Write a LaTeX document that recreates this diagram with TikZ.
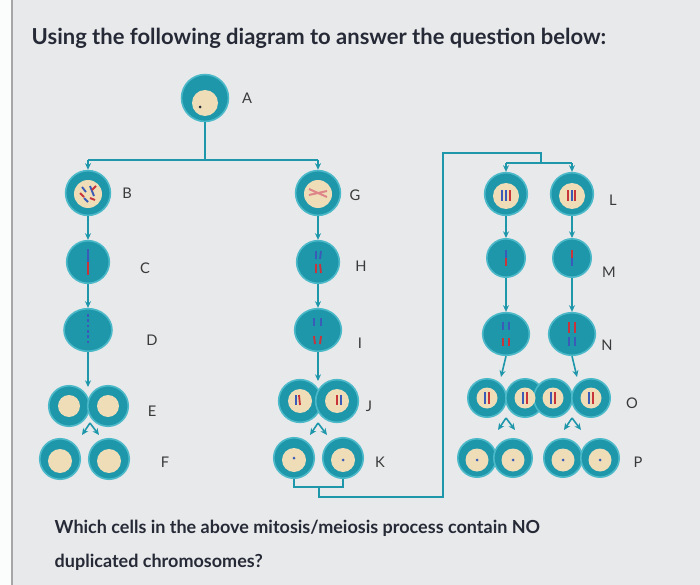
\documentclass[tikz,border=0pt]{standalone}
\usepackage{fontspec}
\setmainfont{Lato}
\usetikzlibrary{arrows.meta,shapes.geometric}
\definecolor{bg}{HTML}{E8E9EB}
\definecolor{teal}{HTML}{1E97AB}
\definecolor{tealL}{HTML}{4CB9C9}
\definecolor{nuc}{HTML}{EFDDB8}
\definecolor{ink}{HTML}{262A36}
\definecolor{lab}{HTML}{3A3A3A}
\definecolor{chr}{HTML}{C8343A}
\definecolor{chb}{HTML}{3B5BB8}
\begin{document}
\begin{tikzpicture}[x=0.75pt,y=-0.75pt,
  cell/.style={circle,fill=teal,draw=tealL,line width=1.2pt,minimum size=#1*0.8pt,inner sep=0pt},
  ocell/.style={ellipse,fill=teal,draw=tealL,line width=1.2pt,inner sep=0pt},
  nucl/.style={circle,fill=nuc,minimum size=#1*0.75pt,inner sep=0pt},
  lbl/.style={font=\fontsize{11}{13}\selectfont,text=lab},
  con/.style={draw=teal,line width=1.2pt},
  arr/.style={con,-{Stealth[length=5pt,width=4.5pt]}},
  chrr/.style={draw=chr,line width=1.4pt},
  chrb/.style={draw=chb,line width=1.4pt}]
\useasboundingbox (0,0) rectangle (700,585);
\fill[bg] (0,0) rectangle (700,585);
\fill[white!85!bg] (0,0) rectangle (12,585);
\draw[gray!70,line width=0.8pt] (12,0) -- (12,585);
\node[anchor=west,text=ink,font=\fontsize{16.5}{19}\selectfont\bfseries] (title) at (27,38) {Using the following diagram to answer the question below:};
% A
\node[cell=44] (A) at (205,98) {};
\node[nucl=26] (An) at (205,103) {};
\fill[ink] (200,107) circle (1.5);
\node[lbl] (lA) at (247,98) {A};
% branch A
\coordinate (a1) at (205,160);
\coordinate (aB) at (88,160);
\coordinate (aG) at (318,160);
\draw[con] (A.south) -- (a1);
\draw[con] (aB) -- (aG);
% column B
\node[cell=42] (B) at (88,193) {};
\node[nucl=28] (Bn) at (88,194) {};
\draw[chrb] (82,187)--(86,192) (90,186)--(94,196) (84,198)--(88,202);
\draw[chrr] (80,193)--(84,197) (92,190)--(96,186) (90,198)--(95,200);
\node[lbl] (lB) at (127,193) {B};
\draw[arr] (aB) -- (B.north);
\node[cell=40] (C) at (88,262) {};
\draw[chrb] (88,249)--(88,262); \draw[chrr] (88,262)--(88,275);
\node[lbl] (lC) at (145,268) {C};
\draw[arr] (B.south) -- (C.north);
\node[ocell,minimum width=36pt,minimum height=32pt] (D) at (88,330) {};
\draw[chb,line width=1.6pt,dash pattern=on 2pt off 2pt] (88,314)--(88,346);
\node[lbl] (lD) at (152,340) {D};
\draw[arr] (C.south) -- (D.north);
\node[cell=38] (E1) at (69,406) {};
\node[cell=38] (E2) at (108,406) {};
\node[nucl=22] (E1n) at (69,406) {};
\node[nucl=22] (E2n) at (108,406) {};
\node[lbl] (lE) at (152,411) {E};
\draw[arr] (D.south) -- (88,387);
\node[cell=38] (F1) at (60,459) {};
\node[cell=38] (F2) at (109,459) {};
\node[nucl=24] (F1n) at (60,461) {};
\node[nucl=24] (F2n) at (109,461) {};
\node[lbl] (lF) at (165,462) {F};
\coordinate (ec) at (90,423);
\draw[arr] (ec) -- (82,435);
\draw[arr] (ec) -- (99,435);
% column G
\node[cell=42] (G) at (318,193) {};
\node[nucl=28] (Gn) at (318,194) {};
\draw[draw=chr!60,line width=1.5pt] (309,189)--(327,197) (309,195)--(327,191);
\node[lbl] (lG) at (355,195) {G};
\draw[arr] (aG) -- (G.north);
\node[cell=40] (H) at (318,262) {};
\draw[chrb] (316,251)--(316,259) (321,251)--(320,259);
\draw[chrr] (316,264)--(316,273) (320,264)--(321,273);
\node[lbl] (lH) at (361,266) {H};
\draw[arr] (G.south) -- (H.north);
\node[ocell,minimum width=35pt,minimum height=32pt] (I) at (318,330) {};
\draw[chrb] (314,318)--(314,326) (321,318)--(321,326);
\draw[chrr] (314,336)--(315,344) (321,336)--(320,344);
\node[lbl] (lI) at (360,343) {I};
\draw[arr] (H.south) -- (I.north);
\node[cell=40] (J1) at (300,401) {};
\node[cell=40] (J2) at (337,401) {};
\node[nucl=24] (J1n) at (300,401) {};
\node[nucl=24] (J2n) at (337,401) {};
\draw[chrb] (296,395)--(296,405); \draw[chrr] (299,395)--(300,405);
\draw[chrr] (337,395)--(337,405); \draw[chrb] (341,395)--(341,405);
\node[lbl] (lJ) at (369,406) {J};
\draw[arr] (I.south) -- (318,381);
\node[cell=38] (K1) at (294,458) {};
\node[cell=38] (K2) at (343,458) {};
\node[nucl=24] (K1n) at (294,460) {};
\node[nucl=24] (K2n) at (343,460) {};
\fill[chb] (294,458) circle (1.5) (343,460) circle (1.5);
\node[lbl] (lK) at (380,462) {K};
\coordinate (jc) at (318,423);
\draw[arr] (jc) -- (310,435);
\draw[arr] (jc) -- (327,435);
% K connector to right
\coordinate (k1) at (294,487);
\coordinate (k2) at (343,487);
\coordinate (km) at (319,487);
\coordinate (kb) at (319,497);
\coordinate (kr) at (443,497);
\coordinate (kt) at (443,153);
\coordinate (ktr) at (541,153);
\coordinate (kd) at (541,163);
\coordinate (lL1) at (506,163);
\coordinate (lL2) at (572,163);
\draw[con] (K1.south) -- (k1) -- (k2) -- (K2.south);
\draw[con] (km) -- (kb) -- (kr) -- (kt) -- (ktr) -- (kd);
\draw[con] (lL1) -- (lL2);
% column L
\foreach \n/\x in {1/506,2/572}{
  \node[cell=40] (L\n) at (\x,194) {};
  \node[nucl=26] (L\n n) at (\x,196) {};
  \node[cell=36] (M\n) at (\x,258) {};
  \node[ocell,minimum width=35pt,minimum height=32pt] (N\n) at (\x,334) {};
}
\draw[arr] (lL1) -- (L1.north);
\draw[arr] (lL2) -- (L2.north);
\draw[chrb] (502,190)--(502,201) (506,190)--(506,201); \draw[chrr] (510,190)--(510,201);
\draw[chrr] (568,190)--(568,201) (575,190)--(575,201); \draw[chrb] (572,190)--(572,201);
\draw[chrb] (506,250)--(506,258); \draw[chrr] (506,258)--(506,266);
\draw[chrr] (572,250)--(572,258); \draw[chrb] (572,258)--(572,266);
\draw[chrb] (503,322)--(503,330) (509,322)--(509,330);
\draw[chrr] (503,338)--(503,346) (509,338)--(509,346);
\draw[chrr] (569,322)--(569,333) (575,322)--(575,333);
\draw[chrb] (569,337)--(569,346) (575,337)--(575,346);
\node[lbl] (lL) at (613,200) {L};
\node[lbl] (lM) at (609,272) {M};
\node[lbl] (lN) at (607,345) {N};
\draw[arr] (L1.south) -- (M1.north);
\draw[arr] (L2.south) -- (M2.north);
\draw[arr] (M1.south) -- (N1.north);
\draw[arr] (M2.south) -- (N2.north);
\foreach \n/\x in {1/487,2/525,3/553,4/591}{
  \node[cell=36] (O\n) at (\x,398) {};
}
\foreach \n/\x in {1/487,2/525,3/553,4/591}{
  \node[nucl=21] (O\n n) at (\x,398) {};
  \draw[chrb] (\x-2,392)--(\x-2,404); \draw[chrr] (\x+2,392)--(\x+2,404);
}
\node[lbl] (lO) at (632,403) {O};
\draw[arr] (N1.south) -- (501,377);
\draw[arr] (N2.south) -- (577,377);
\foreach \n/\x in {1/477,2/513,3/563,4/600}{
  \node[cell=36] (P\n) at (\x,458) {};
  \node[nucl=23] (P\n n) at (\x,460) {};
  \fill[chb] (\x,460) circle (1.5);
}
\node[lbl] (lP) at (638,462) {P};
\coordinate (oc1) at (506,418);
\coordinate (oc2) at (572,418);
\draw[arr] (oc1) -- (498,430);
\draw[arr] (oc1) -- (515,430);
\draw[arr] (oc2) -- (564,430);
\draw[arr] (oc2) -- (581,430);
% question
\node[anchor=west,text=ink,font=\fontsize{13.5}{16}\selectfont\bfseries] (q1) at (50,528) {Which cells in the above mitosis/meiosis process contain NO};
\node[anchor=west,text=ink,font=\fontsize{13.5}{16}\selectfont\bfseries] (q2) at (50,562) {duplicated chromosomes?};
\end{tikzpicture}
\end{document}
